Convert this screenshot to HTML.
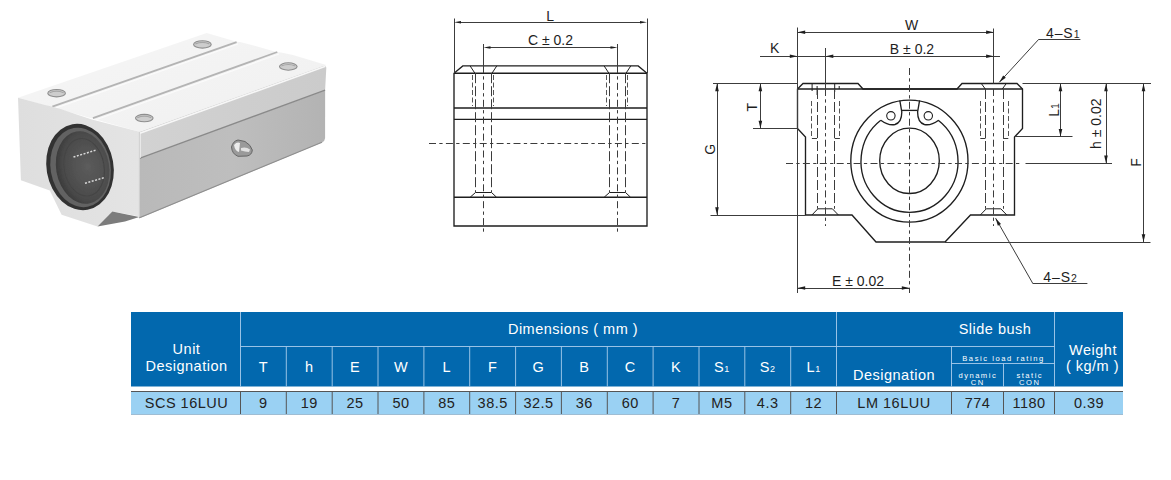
<!DOCTYPE html>
<html><head><meta charset="utf-8">
<style>
html,body{margin:0;padding:0;background:#fff;}
body{width:1171px;height:480px;overflow:hidden;position:relative;}
svg{position:absolute;left:0;top:0;}
text{font-family:"Liberation Sans",sans-serif;}
</style></head><body>
<svg width="1171" height="480" viewBox="0 0 1171 480">
<defs>
 <marker id="ar" viewBox="0 0 10 6" refX="10" refY="3" markerWidth="10" markerHeight="6" markerUnits="userSpaceOnUse" orient="auto-start-reverse">
  <path d="M0,0.6 L10,3 L0,5.4 z" fill="#1a1a1a"/>
 </marker>
</defs>
<rect x="131" y="312" width="992" height="74.5" fill="#0268ae"/>
<rect x="131" y="391" width="992" height="23" fill="#9ad1f3"/>
<line x1="131" y1="391.5" x2="1123" y2="391.5" stroke="#555" stroke-width="1"/>
<line x1="131" y1="414.5" x2="1123" y2="414.5" stroke="#9fbdd3" stroke-width="1"/>
<g stroke="#a9cdec" stroke-width="0.9" fill="none">
<line x1="240.5" y1="312" x2="240.5" y2="386.5"/>
<line x1="836.5" y1="312" x2="836.5" y2="386.5"/>
<line x1="1054.5" y1="312" x2="1054.5" y2="386.5"/>
<line x1="951.5" y1="346.5" x2="951.5" y2="386.5"/>
<line x1="1003.5" y1="363.5" x2="1003.5" y2="386.5"/>
<line x1="240.5" y1="346.5" x2="1054.5" y2="346.5"/>
<line x1="951.5" y1="363.5" x2="1054.5" y2="363.5"/>
<line x1="286.3" y1="346.5" x2="286.3" y2="386.5"/>
<line x1="332.2" y1="346.5" x2="332.2" y2="386.5"/>
<line x1="378.0" y1="346.5" x2="378.0" y2="386.5"/>
<line x1="423.9" y1="346.5" x2="423.9" y2="386.5"/>
<line x1="469.7" y1="346.5" x2="469.7" y2="386.5"/>
<line x1="515.6" y1="346.5" x2="515.6" y2="386.5"/>
<line x1="561.4" y1="346.5" x2="561.4" y2="386.5"/>
<line x1="607.3" y1="346.5" x2="607.3" y2="386.5"/>
<line x1="653.1" y1="346.5" x2="653.1" y2="386.5"/>
<line x1="699.0" y1="346.5" x2="699.0" y2="386.5"/>
<line x1="744.8" y1="346.5" x2="744.8" y2="386.5"/>
<line x1="790.7" y1="346.5" x2="790.7" y2="386.5"/>
</g>
<g stroke="#555" stroke-width="1">
<line x1="240.5" y1="391" x2="240.5" y2="414"/>
<line x1="286.3" y1="391" x2="286.3" y2="414"/>
<line x1="332.2" y1="391" x2="332.2" y2="414"/>
<line x1="378.0" y1="391" x2="378.0" y2="414"/>
<line x1="423.9" y1="391" x2="423.9" y2="414"/>
<line x1="469.7" y1="391" x2="469.7" y2="414"/>
<line x1="515.6" y1="391" x2="515.6" y2="414"/>
<line x1="561.4" y1="391" x2="561.4" y2="414"/>
<line x1="607.3" y1="391" x2="607.3" y2="414"/>
<line x1="653.1" y1="391" x2="653.1" y2="414"/>
<line x1="699.0" y1="391" x2="699.0" y2="414"/>
<line x1="744.8" y1="391" x2="744.8" y2="414"/>
<line x1="790.7" y1="391" x2="790.7" y2="414"/>
<line x1="836.5" y1="391" x2="836.5" y2="414"/>
<line x1="951.5" y1="391" x2="951.5" y2="414"/>
<line x1="1003.5" y1="391" x2="1003.5" y2="414"/>
<line x1="1054.5" y1="391" x2="1054.5" y2="414"/>
</g>
<text x="186.5" y="354" font-size="14.5" fill="#fff" letter-spacing="0.5" text-anchor="middle" >Unit</text>
<text x="186.5" y="370.7" font-size="14.5" fill="#fff" letter-spacing="0.5" text-anchor="middle" >Designation</text>
<text x="573" y="334" font-size="14.5" fill="#fff" letter-spacing="0.5" text-anchor="middle" >Dimensions ( mm )</text>
<text x="995" y="334" font-size="14.5" fill="#fff" letter-spacing="0.5" text-anchor="middle" >Slide bush</text>
<text x="1093" y="355.3" font-size="14.5" fill="#fff" letter-spacing="0.5" text-anchor="middle" >Weight</text>
<text x="1092.5" y="371" font-size="14.5" fill="#fff" letter-spacing="0.5" text-anchor="middle" >( kg/m )</text>
<text x="263.4" y="371.5" font-size="14.5" fill="#fff" letter-spacing="0.5" text-anchor="middle" >T</text>
<text x="309.3" y="371.5" font-size="14.5" fill="#fff" letter-spacing="0.5" text-anchor="middle" >h</text>
<text x="355.1" y="371.5" font-size="14.5" fill="#fff" letter-spacing="0.5" text-anchor="middle" >E</text>
<text x="401.0" y="371.5" font-size="14.5" fill="#fff" letter-spacing="0.5" text-anchor="middle" >W</text>
<text x="446.8" y="371.5" font-size="14.5" fill="#fff" letter-spacing="0.5" text-anchor="middle" >L</text>
<text x="492.7" y="371.5" font-size="14.5" fill="#fff" letter-spacing="0.5" text-anchor="middle" >F</text>
<text x="538.5" y="371.5" font-size="14.5" fill="#fff" letter-spacing="0.5" text-anchor="middle" >G</text>
<text x="584.3" y="371.5" font-size="14.5" fill="#fff" letter-spacing="0.5" text-anchor="middle" >B</text>
<text x="630.2" y="371.5" font-size="14.5" fill="#fff" letter-spacing="0.5" text-anchor="middle" >C</text>
<text x="676.0" y="371.5" font-size="14.5" fill="#fff" letter-spacing="0.5" text-anchor="middle" >K</text>
<text x="721.9" y="371.5" font-size="14.5" fill="#fff" letter-spacing="0.5" text-anchor="middle" >S<tspan font-size="9">1</tspan></text>
<text x="767.7" y="371.5" font-size="14.5" fill="#fff" letter-spacing="0.5" text-anchor="middle" >S<tspan font-size="9">2</tspan></text>
<text x="813.6" y="371.5" font-size="14.5" fill="#fff" letter-spacing="0.5" text-anchor="middle" >L<tspan font-size="9">1</tspan></text>
<text x="894" y="380" font-size="14.5" fill="#fff" letter-spacing="0.5" text-anchor="middle" >Designation</text>
<text x="1003.5" y="361.3" font-size="7.6" fill="#fff" letter-spacing="1.55" text-anchor="middle" >Basic load rating</text>
<text x="977.8" y="377.6" font-size="7.6" fill="#fff" letter-spacing="1.5" text-anchor="middle" >dynamic</text>
<text x="977.8" y="385.2" font-size="7.6" fill="#fff" letter-spacing="1.5" text-anchor="middle" >CN</text>
<text x="1029.8" y="377.6" font-size="7.6" fill="#fff" letter-spacing="1.5" text-anchor="middle" >static</text>
<text x="1029.8" y="385.2" font-size="7.6" fill="#fff" letter-spacing="1.5" text-anchor="middle" >CON</text>
<text x="186.5" y="408" font-size="14.5" fill="#222" letter-spacing="0.5" text-anchor="middle" >SCS 16LUU</text>
<text x="263.4" y="408" font-size="14.5" fill="#222" letter-spacing="0.5" text-anchor="middle" >9</text>
<text x="309.3" y="408" font-size="14.5" fill="#222" letter-spacing="0.5" text-anchor="middle" >19</text>
<text x="355.1" y="408" font-size="14.5" fill="#222" letter-spacing="0.5" text-anchor="middle" >25</text>
<text x="401.0" y="408" font-size="14.5" fill="#222" letter-spacing="0.5" text-anchor="middle" >50</text>
<text x="446.8" y="408" font-size="14.5" fill="#222" letter-spacing="0.5" text-anchor="middle" >85</text>
<text x="492.7" y="408" font-size="14.5" fill="#222" letter-spacing="0.5" text-anchor="middle" >38.5</text>
<text x="538.5" y="408" font-size="14.5" fill="#222" letter-spacing="0.5" text-anchor="middle" >32.5</text>
<text x="584.3" y="408" font-size="14.5" fill="#222" letter-spacing="0.5" text-anchor="middle" >36</text>
<text x="630.2" y="408" font-size="14.5" fill="#222" letter-spacing="0.5" text-anchor="middle" >60</text>
<text x="676.0" y="408" font-size="14.5" fill="#222" letter-spacing="0.5" text-anchor="middle" >7</text>
<text x="721.9" y="408" font-size="14.5" fill="#222" letter-spacing="0.5" text-anchor="middle" >M5</text>
<text x="767.7" y="408" font-size="14.5" fill="#222" letter-spacing="0.5" text-anchor="middle" >4.3</text>
<text x="813.6" y="408" font-size="14.5" fill="#222" letter-spacing="0.5" text-anchor="middle" >12</text>
<text x="894" y="408" font-size="14.5" fill="#222" letter-spacing="0.5" text-anchor="middle" >LM 16LUU</text>
<text x="977.5" y="408" font-size="14.5" fill="#222" letter-spacing="0.5" text-anchor="middle" >774</text>
<text x="1029" y="408" font-size="14.5" fill="#222" letter-spacing="0.5" text-anchor="middle" >1180</text>
<text x="1089" y="408" font-size="14.5" fill="#222" letter-spacing="0.5" text-anchor="middle" >0.39</text>
<defs>
<linearGradient id="gSide" x1="0" y1="0" x2="1" y2="0"><stop offset="0" stop-color="#b9b9b9"/><stop offset="0.5" stop-color="#bebebe"/><stop offset="1" stop-color="#b3b3b3"/></linearGradient>
<linearGradient id="gBand" x1="0" y1="0" x2="1" y2="0"><stop offset="0" stop-color="#d2d2d2"/><stop offset="1" stop-color="#cbcbcb"/></linearGradient>
<linearGradient id="gTop" x1="0" y1="0" x2="1" y2="1"><stop offset="0" stop-color="#f6f6f6"/><stop offset="1" stop-color="#f0f0f0"/></linearGradient>
<linearGradient id="gFront" x1="0" y1="0" x2="1" y2="0"><stop offset="0" stop-color="#dedede"/><stop offset="1" stop-color="#e4e4e4"/></linearGradient>
<radialGradient id="gBore" cx="0.6" cy="0.5" r="0.6"><stop offset="0" stop-color="#5c5c5c"/><stop offset="0.75" stop-color="#4b4b4b"/><stop offset="1" stop-color="#3a3a3a"/></radialGradient>
<filter id="soft" x="-5%" y="-5%" width="110%" height="110%"><feGaussianBlur stdDeviation="0.45"/></filter>
</defs>
<g filter="url(#soft)">
<path d="M139.4,158 L325.1,90.2 L325.1,138 Q325,141 322,142.5 L139,218.5 Z" fill="url(#gSide)"/>
<path d="M139.5,217.8 L322,142.2" stroke="#8f8f8f" stroke-width="1.2" fill="none"/>
<path d="M139.4,131.8 L323.5,65.5 Q326.5,65 326.3,68 L325.1,90.2 L139.4,158 Z" fill="url(#gBand)"/>
<path d="M139.4,158.3 L325.1,90.2" stroke="#8a8a8a" stroke-width="1.3" fill="none"/>
<path d="M139.8,133.3 L325.5,66.3" stroke="#f7f7f7" stroke-width="1.6" fill="none"/>
<path d="M140,133 L140,158" stroke="#f2f2f2" stroke-width="1.4" fill="none"/>
<path d="M18,97.8 L206.7,33.1 L236.6,41.8 L240,42 L255.5,46.1 L277.3,52.2 L281,52.5 L293,55 L326.2,65 L139.4,131.8 Z" fill="url(#gTop)"/>
<path d="M52.3,106.6 L236.6,42.1" stroke="#b4b4b4" stroke-width="1.8" fill="none"/>
<path d="M92.9,118.2 L277.3,52" stroke="#b4b4b4" stroke-width="1.8" fill="none"/>
<path d="M54,108.6 L238,44" stroke="#fbfbfb" stroke-width="1.2" fill="none"/>
<path d="M94.5,120.2 L279,54" stroke="#fbfbfb" stroke-width="1.2" fill="none"/>
<ellipse cx="56.6" cy="93.2" rx="8.8" ry="3.7" fill="#cdcdcd" stroke="#8e8e8e" stroke-width="1.1"/>
<path d="M49.6,92.7 Q56.6,89.7 63.6,92.7" stroke="#a5a5a5" stroke-width="1.2" fill="none"/>
<ellipse cx="144.3" cy="118.1" rx="8.8" ry="3.7" fill="#cdcdcd" stroke="#8e8e8e" stroke-width="1.1"/>
<path d="M137.3,117.6 Q144.3,114.6 151.3,117.6" stroke="#a5a5a5" stroke-width="1.2" fill="none"/>
<ellipse cx="202.4" cy="44.4" rx="8.8" ry="3.7" fill="#cdcdcd" stroke="#8e8e8e" stroke-width="1.1"/>
<path d="M195.4,43.9 Q202.4,40.9 209.4,43.9" stroke="#a5a5a5" stroke-width="1.2" fill="none"/>
<ellipse cx="288.3" cy="66.5" rx="8.8" ry="3.7" fill="#cdcdcd" stroke="#8e8e8e" stroke-width="1.1"/>
<path d="M281.3,66.0 Q288.3,63.0 295.3,66.0" stroke="#a5a5a5" stroke-width="1.2" fill="none"/>
<path d="M18,97.8 Q30,101 45,105 Q57,107.5 65,110.5 Q78,115 92,119.5 L139.4,131.8 L139.4,216.5 L112.3,211.6 L97.5,226.4 L61.6,214.7 L49.8,190.5 L20.9,180.3 Z" fill="url(#gFront)"/>
<path d="M139.4,131.8 L139.4,216.5" stroke="#d0d0d0" stroke-width="1" fill="none"/>
<path d="M97.5,226.4 L112.3,211.6 L139.2,217 L125,221.5 Z" fill="#7c7c7c"/>
<g transform="rotate(-10 80 167)">
<ellipse cx="80" cy="167" rx="33.5" ry="43.5" fill="#333"/>
<ellipse cx="80.5" cy="167.5" rx="30" ry="40" fill="#626262"/>
<ellipse cx="82.5" cy="168" rx="26.5" ry="36.5" fill="url(#gBore)"/>
<ellipse cx="84" cy="168" rx="20" ry="29" fill="none" stroke="#444" stroke-width="1"/>
</g>
<path d="M73.5,157 L96.5,150" stroke="#d8d8d8" stroke-width="1.5" stroke-dasharray="2 1.5" fill="none"/>
<path d="M85,183.3 L104.5,177.6" stroke="#d8d8d8" stroke-width="1.5" stroke-dasharray="2 1.5" fill="none"/>
<path d="M231.5,147 Q233,141 238,140 L245,141.5 Q251,145 252.3,150 Q252,155 247,156 L238,156.3 Q232,154 231.5,147 Z" fill="#9a9a9a" stroke="#666" stroke-width="1"/>
<path d="M234,145 Q237,141.5 240,143 L239,152 Q235,151 234,145 Z" fill="#ececec"/>
<path d="M241,148 Q246,146.5 250,149.5 L249,152 Q245,151.5 241,150.5 Z" fill="#e2e2e2"/>
</g>
<path d="M454,226 L454,73.2 L462.8,65.9 L638.2,65.9 L647,73.2 L647,226 Z" fill="none" stroke="#1e1e1e" stroke-width="1.35" stroke-linejoin="miter" />
<line x1="454" y1="73.2" x2="647" y2="73.2" stroke="#1e1e1e" stroke-width="1.35" />
<line x1="454" y1="108" x2="647" y2="108" stroke="#1e1e1e" stroke-width="1.35" />
<line x1="454" y1="119.3" x2="647" y2="119.3" stroke="#1e1e1e" stroke-width="1.35" />
<line x1="454" y1="197.2" x2="647" y2="197.2" stroke="#1e1e1e" stroke-width="1.35" />
<path d="M470.1,65.9 L474.9,73.2 M496.8,65.9 L492.0,73.2" fill="none" stroke="#1e1e1e" stroke-width="1.0" stroke-linejoin="miter" />
<path d="M470.2,197.2 L475.5,192.5 L491.5,192.5 L496.5,197.2" fill="none" stroke="#1e1e1e" stroke-width="1.0" stroke-linejoin="miter" />
<line x1="475.5" y1="73.2" x2="475.5" y2="192.5" stroke="#3c3c3c" stroke-width="1.0" stroke-dasharray="10 3"/>
<line x1="491.5" y1="73.2" x2="491.5" y2="192.5" stroke="#3c3c3c" stroke-width="1.0" stroke-dasharray="10 3"/>
<line x1="472.5" y1="75" x2="472.5" y2="106" stroke="#555" stroke-width="1.0" stroke-dasharray="5 2.5"/>
<line x1="493.5" y1="75" x2="493.5" y2="106" stroke="#555" stroke-width="1.0" stroke-dasharray="5 2.5"/>
<line x1="483.5" y1="44" x2="483.5" y2="66" stroke="#3c3c3c" stroke-width="1.0" />
<line x1="483.5" y1="66" x2="483.5" y2="235" stroke="#3c3c3c" stroke-width="1.0" stroke-dasharray="7 3.3 3.3 3.3"/>
<path d="M604.1,65.9 L608.9,73.2 M630.8,65.9 L626.0,73.2" fill="none" stroke="#1e1e1e" stroke-width="1.0" stroke-linejoin="miter" />
<path d="M604.2,197.2 L609.5,192.5 L625.5,192.5 L630.5,197.2" fill="none" stroke="#1e1e1e" stroke-width="1.0" stroke-linejoin="miter" />
<line x1="609.5" y1="73.2" x2="609.5" y2="192.5" stroke="#3c3c3c" stroke-width="1.0" stroke-dasharray="10 3"/>
<line x1="625.5" y1="73.2" x2="625.5" y2="192.5" stroke="#3c3c3c" stroke-width="1.0" stroke-dasharray="10 3"/>
<line x1="606.5" y1="75" x2="606.5" y2="106" stroke="#555" stroke-width="1.0" stroke-dasharray="5 2.5"/>
<line x1="627.5" y1="75" x2="627.5" y2="106" stroke="#555" stroke-width="1.0" stroke-dasharray="5 2.5"/>
<line x1="617.5" y1="44" x2="617.5" y2="66" stroke="#3c3c3c" stroke-width="1.0" />
<line x1="617.5" y1="66" x2="617.5" y2="235" stroke="#3c3c3c" stroke-width="1.0" stroke-dasharray="7 3.3 3.3 3.3"/>
<line x1="429" y1="143.5" x2="647" y2="143.5" stroke="#3c3c3c" stroke-width="1.0" stroke-dasharray="7 3.3 3.3 3.3"/>
<line x1="454.5" y1="18.5" x2="454.5" y2="73" stroke="#3c3c3c" stroke-width="1.0" />
<line x1="647.5" y1="18.5" x2="647.5" y2="73" stroke="#3c3c3c" stroke-width="1.0" />
<line x1="460" y1="22.5" x2="641" y2="22.5" stroke="#3c3c3c" stroke-width="1.0" />
<path d="M454,22.2 l7,-1.3 l0,2.6 z M647,22.2 l-7,-1.3 l0,2.6 z" fill="#1e1e1e"/>
<line x1="489" y1="47.5" x2="611.5" y2="47.5" stroke="#3c3c3c" stroke-width="1.0" />
<path d="M483.5,47.5 l7,-1.3 l0,2.6 z M617.5,47.5 l-7,-1.3 l0,2.6 z" fill="#1e1e1e"/>
<text x="550.2" y="20.6" font-size="14" fill="#1e1e1e" text-anchor="middle" letter-spacing="0" >L</text>
<text x="550.5" y="44.6" font-size="14" fill="#1e1e1e" text-anchor="middle" letter-spacing="0" >C ± 0.2</text>
<path d="M797.5,89 L803,83.5 L858,83.5 L863,89 L957,89 L962,83.5 L1017,83.5 L1022.5,89 L1022.5,128.5 L1014.5,137 L1014.5,215 L970.5,215 L945,242 L876,242 L852,215 L805.5,215 L805.5,137 L797.5,128.5 Z" fill="none" stroke="#1e1e1e" stroke-width="1.35" stroke-linejoin="miter" />
<line x1="797.5" y1="89" x2="1022.5" y2="89" stroke="#1e1e1e" stroke-width="1.35" />
<path d="M812.1,83.5 L812.1,91 M817.1,86 L817.1,95 M834.6999999999999,83.5 L834.6999999999999,92 M839.1999999999999,86 L839.1999999999999,89" fill="none" stroke="#1e1e1e" stroke-width="1.0" stroke-linejoin="miter" />
<path d="M811.9,215 L817.9,208.8 L832.4,208.8 L838.4,215" fill="none" stroke="#1e1e1e" stroke-width="1.0" stroke-linejoin="miter" />
<line x1="817.5" y1="89" x2="817.5" y2="208.8" stroke="#3c3c3c" stroke-width="1.0" stroke-dasharray="10 3"/>
<line x1="834.5" y1="89" x2="834.5" y2="208.8" stroke="#3c3c3c" stroke-width="1.0" stroke-dasharray="10 3"/>
<line x1="811.5" y1="101" x2="811.5" y2="138" stroke="#555" stroke-width="1.0" stroke-dasharray="5 2.5"/>
<line x1="839.5" y1="101" x2="839.5" y2="138" stroke="#555" stroke-width="1.0" stroke-dasharray="5 2.5"/>
<line x1="811.9" y1="138.5" x2="817.1" y2="138.5" stroke="#3c3c3c" stroke-width="1.0" />
<line x1="834.6999999999999" y1="138.5" x2="839.9" y2="138.5" stroke="#3c3c3c" stroke-width="1.0" />
<line x1="825.5" y1="89" x2="825.5" y2="226" stroke="#3c3c3c" stroke-width="1.0" stroke-dasharray="7 3.3 3.3 3.3"/>
<path d="M981.3,83.5 L985.3,89 M1006.3,83.5 L1002.3,89" fill="none" stroke="#1e1e1e" stroke-width="1.0" stroke-linejoin="miter" />
<path d="M980.3,215 L986.3,208.8 L1000.8,208.8 L1006.8,215" fill="none" stroke="#1e1e1e" stroke-width="1.0" stroke-linejoin="miter" />
<line x1="985.5" y1="89" x2="985.5" y2="208.8" stroke="#3c3c3c" stroke-width="1.0" stroke-dasharray="10 3"/>
<line x1="1003.5" y1="89" x2="1003.5" y2="208.8" stroke="#3c3c3c" stroke-width="1.0" stroke-dasharray="10 3"/>
<line x1="980.5" y1="101" x2="980.5" y2="138" stroke="#555" stroke-width="1.0" stroke-dasharray="5 2.5"/>
<line x1="1008.5" y1="101" x2="1008.5" y2="138" stroke="#555" stroke-width="1.0" stroke-dasharray="5 2.5"/>
<line x1="980.3" y1="138.5" x2="985.5" y2="138.5" stroke="#3c3c3c" stroke-width="1.0" />
<line x1="1003.0999999999999" y1="138.5" x2="1008.3" y2="138.5" stroke="#3c3c3c" stroke-width="1.0" />
<line x1="993.5" y1="89" x2="993.5" y2="226" stroke="#3c3c3c" stroke-width="1.0" stroke-dasharray="7 3.3 3.3 3.3"/>
<ellipse cx="909.4" cy="161.1" rx="58.6" ry="61" fill="none" stroke="#1e1e1e" stroke-width="1.35"/>
<path d="M938.2,120.2 A48.5,51 0 1 1 880.8,120.2" fill="none" stroke="#1e1e1e" stroke-width="1.35"/>
<ellipse cx="909.5" cy="160.8" rx="29.8" ry="32.7" fill="none" stroke="#1e1e1e" stroke-width="1.35"/>
<path d="M880.8,120.2 C886,124 890,125.5 895,124.5 C900,123 901.8,118 901.8,112 L899.8,100.3" fill="none" stroke="#1e1e1e" stroke-width="1.35" stroke-linejoin="miter" />
<path d="M938.6,120.2 C933.4,124 929.4,125.5 924.4,124.5 C919.4,123 917.6,118 917.6,112 L919.6,100.3" fill="none" stroke="#1e1e1e" stroke-width="1.35" stroke-linejoin="miter" />
<line x1="901.8" y1="110.4" x2="917.6" y2="110.4" stroke="#1e1e1e" stroke-width="1.35" />
<circle cx="890.9" cy="115.8" r="4.2" fill="none" stroke="#1e1e1e" stroke-width="1.1"/>
<circle cx="928.3" cy="115.8" r="4.2" fill="none" stroke="#1e1e1e" stroke-width="1.1"/>
<line x1="909.5" y1="68" x2="909.5" y2="293" stroke="#3c3c3c" stroke-width="1.0" stroke-dasharray="7 3.3 3.3 3.3"/>
<line x1="786" y1="163.5" x2="1022" y2="163.5" stroke="#3c3c3c" stroke-width="1.0" stroke-dasharray="7 3.3 3.3 3.3"/>
<line x1="713" y1="83.5" x2="797.5" y2="83.5" stroke="#3c3c3c" stroke-width="1.0" />
<line x1="1022.5" y1="83.5" x2="1151" y2="83.5" stroke="#3c3c3c" stroke-width="1.0" />
<line x1="753" y1="128.5" x2="797.5" y2="128.5" stroke="#3c3c3c" stroke-width="1.0" />
<line x1="710.5" y1="215.5" x2="805.5" y2="215.5" stroke="#3c3c3c" stroke-width="1.0" />
<line x1="1014.5" y1="136.5" x2="1072.5" y2="136.5" stroke="#3c3c3c" stroke-width="1.0" />
<line x1="1025.5" y1="163.5" x2="1112" y2="163.5" stroke="#3c3c3c" stroke-width="1.0" />
<line x1="945" y1="242.5" x2="1150.5" y2="242.5" stroke="#3c3c3c" stroke-width="1.0" />
<line x1="797.5" y1="27.5" x2="797.5" y2="293" stroke="#3c3c3c" stroke-width="1.0" />
<line x1="993.5" y1="28.5" x2="993.5" y2="83.5" stroke="#3c3c3c" stroke-width="1.0" />
<line x1="825.5" y1="48" x2="825.5" y2="89" stroke="#3c3c3c" stroke-width="1.0" />
<line x1="797.5" y1="32.5" x2="993.8" y2="32.5" stroke="#3c3c3c" stroke-width="1.0" />
<path d="M797.50,32.20 L805.20,30.40 L805.20,34.00 z" fill="#1e1e1e"/>
<path d="M993.80,32.20 L986.10,34.00 L986.10,30.40 z" fill="#1e1e1e"/>
<line x1="760" y1="56.5" x2="1000" y2="56.5" stroke="#3c3c3c" stroke-width="1.0" />
<path d="M797.50,56.30 L789.80,58.10 L789.80,54.50 z" fill="#1e1e1e"/>
<path d="M825.60,56.30 L833.30,54.50 L833.30,58.10 z" fill="#1e1e1e"/>
<path d="M993.80,56.30 L986.10,58.10 L986.10,54.50 z" fill="#1e1e1e"/>
<line x1="717.5" y1="83.5" x2="717.5" y2="215" stroke="#3c3c3c" stroke-width="1.0" />
<path d="M717.00,83.50 L718.80,91.20 L715.20,91.20 z" fill="#1e1e1e"/>
<path d="M717.00,215.00 L715.20,207.30 L718.80,207.30 z" fill="#1e1e1e"/>
<line x1="760.5" y1="83.5" x2="760.5" y2="128.5" stroke="#3c3c3c" stroke-width="1.0" />
<path d="M760.40,83.50 L762.20,91.20 L758.60,91.20 z" fill="#1e1e1e"/>
<path d="M760.40,128.50 L758.60,120.80 L762.20,120.80 z" fill="#1e1e1e"/>
<line x1="1060.5" y1="83.5" x2="1060.5" y2="136.8" stroke="#3c3c3c" stroke-width="1.0" />
<path d="M1060.50,83.50 L1062.30,91.20 L1058.70,91.20 z" fill="#1e1e1e"/>
<path d="M1060.50,136.80 L1058.70,129.10 L1062.30,129.10 z" fill="#1e1e1e"/>
<line x1="1106.5" y1="83.5" x2="1106.5" y2="163.3" stroke="#3c3c3c" stroke-width="1.0" />
<path d="M1106.00,83.50 L1107.80,91.20 L1104.20,91.20 z" fill="#1e1e1e"/>
<path d="M1106.00,163.30 L1104.20,155.60 L1107.80,155.60 z" fill="#1e1e1e"/>
<line x1="1143.5" y1="83.5" x2="1143.5" y2="242" stroke="#3c3c3c" stroke-width="1.0" />
<path d="M1143.50,83.50 L1145.30,91.20 L1141.70,91.20 z" fill="#1e1e1e"/>
<path d="M1143.50,242.00 L1141.70,234.30 L1145.30,234.30 z" fill="#1e1e1e"/>
<line x1="797.5" y1="288.5" x2="909.5" y2="288.5" stroke="#3c3c3c" stroke-width="1.0" />
<path d="M797.50,288.00 L805.20,286.20 L805.20,289.80 z" fill="#1e1e1e"/>
<path d="M909.50,288.00 L901.80,289.80 L901.80,286.20 z" fill="#1e1e1e"/>
<line x1="1038.3" y1="39.5" x2="1080.4" y2="39.5" stroke="#3c3c3c" stroke-width="1.0" />
<line x1="1038.3" y1="39.8" x2="999.3" y2="82.3" stroke="#3c3c3c" stroke-width="1.0" /><path d="M999.30,82.30 L1003.18,75.41 L1005.83,77.84 z" fill="#1e1e1e"/>
<line x1="1033" y1="283.5" x2="1087.4" y2="283.5" stroke="#3c3c3c" stroke-width="1.0" />
<line x1="1033" y1="283.8" x2="995.6" y2="218.2" stroke="#3c3c3c" stroke-width="1.0" /><path d="M995.60,218.20 L1000.98,224.00 L997.85,225.78 z" fill="#1e1e1e"/>
<text x="911.5" y="29.8" font-size="14" fill="#1e1e1e" text-anchor="middle" letter-spacing="0" >W</text>
<text x="774.7" y="52.7" font-size="14" fill="#1e1e1e" text-anchor="middle" letter-spacing="0" >K</text>
<text x="912" y="53.8" font-size="14" fill="#1e1e1e" text-anchor="middle" letter-spacing="0" >B ± 0.2</text>
<text x="858" y="285.5" font-size="14" fill="#1e1e1e" text-anchor="middle" letter-spacing="0" >E ± 0.02</text>
<text x="1046" y="37.9" font-size="14" fill="#1e1e1e" text-anchor="start" letter-spacing="0.9" >4–S<tspan font-size="10.5">1</tspan></text>
<text x="1043.3" y="281.5" font-size="14" fill="#1e1e1e" text-anchor="start" letter-spacing="0.9" >4–S<tspan font-size="10.5">2</tspan></text>
<text x="757.5" y="107.3" font-size="14" fill="#1e1e1e" text-anchor="middle" letter-spacing="0" transform="rotate(-90 757.5 107.3)">T</text>
<text x="715" y="149.2" font-size="14" fill="#1e1e1e" text-anchor="middle" letter-spacing="0" transform="rotate(-90 715 149.2)">G</text>
<text x="1058.75" y="110" font-size="14" fill="#1e1e1e" text-anchor="middle" letter-spacing="0" transform="rotate(-90 1058.75 110)">L<tspan font-size="10.5">1</tspan></text>
<text x="1101.25" y="123.75" font-size="14" fill="#1e1e1e" text-anchor="middle" letter-spacing="0" transform="rotate(-90 1101.25 123.75)">h ± 0.02</text>
<text x="1141.25" y="162.5" font-size="14" fill="#1e1e1e" text-anchor="middle" letter-spacing="0" transform="rotate(-90 1141.25 162.5)">F</text>
</svg>
</body></html>
